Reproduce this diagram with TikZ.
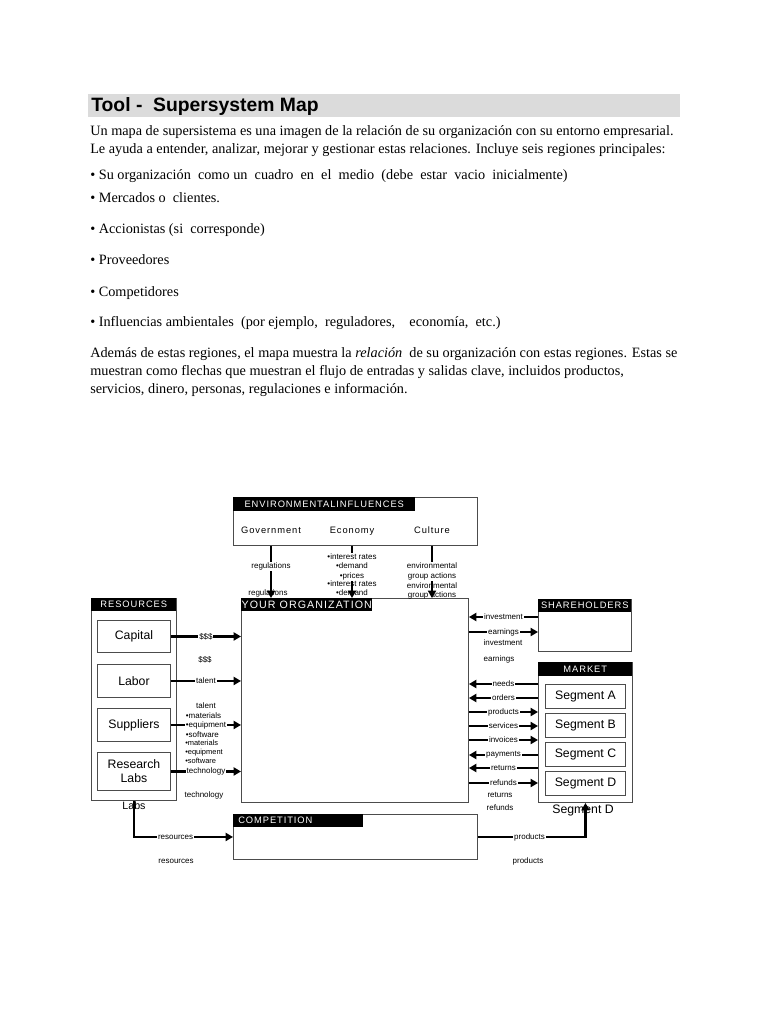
\documentclass[tikz,border=0pt]{standalone}
\usepackage{fontspec}
\setmainfont{Liberation Serif}
\setsansfont{Liberation Sans}
\newfontfamily\hdrfont[LetterSpace=10]{Liberation Sans}
\usetikzlibrary{arrows.meta}

\begin{document}
\begin{tikzpicture}[x=0.75pt, y=-0.75pt,
  txt/.style={anchor=base west, inner sep=0pt, font=\fontsize{10.7}{12}\selectfont},
  box/.style={draw=black!70, line width=0.7pt, inner sep=0pt, anchor=north west},
  hdr/.style={fill=black, text=white, inner sep=0pt, anchor=north west, font=\hdrfont\fontsize{7}{8}\selectfont},
  grp/.style={inner sep=0pt, anchor=base, font=\hdrfont\fontsize{7}{8}\selectfont},
  part/.style={box, align=center, font=\sffamily\fontsize{9.2}{10.5}\selectfont},
  lbl/.style={inner sep=0.6pt, align=center, font=\sffamily\fontsize{6}{7}\selectfont},
  onl/.style={lbl, fill=white},
  flow/.style={line width=2.2pt, -{Triangle[length=5.5pt,width=6pt]}}]

\useasboundingbox (0,0) rectangle (768,1024);
\fill[white] (0,0) rectangle (768,1024);

\fill[black!14] (88,94) rectangle (680,117);
\node[anchor=base west, inner sep=0pt, font=\sffamily\bfseries\fontsize{14.5}{16}\selectfont] (title) at (91,112) {Tool -\ \ Supersystem Map};

\node[txt] (l1) at (90,135) {Un mapa de supersistema es una imagen de la relación de su organización con su entorno empresarial.};
\node[txt] (l2) at (90,153) {Le ayuda a entender, analizar, mejorar y gestionar estas relaciones. Incluye seis regiones principales:};
\node[txt] (b1) at (90,179) {• Su organización\ \ como un\ \ cuadro\ \ en\ \ el\ \ medio\ \ (debe\ \ estar\ \ vacio\ \ inicialmente)};
\node[txt] (b2) at (90,202) {• Mercados o\ \ clientes.};
\node[txt] (b3) at (90,233) {• Accionistas (si\ \ corresponde)};
\node[txt] (b4) at (90,264) {• Proveedores};
\node[txt] (b5) at (90,296) {• Competidores};
\node[txt] (b6) at (90,326) {• Influencias ambientales\ \ (por ejemplo,\ \ reguladores,\ \ \ \ economía,\ \ etc.)};
\node[txt] (p1) at (90,357) {Además de estas regiones, el mapa muestra la \textit{relación}\ \ de su organización con estas regiones. Estas se};
\node[txt] (p2) at (90,375) {muestran como flechas que muestran el flujo de entradas y salidas clave, incluidos productos,};
\node[txt] (p3) at (90,393) {servicios, dinero, personas, regulaciones e información.};

\node[box, minimum width=183pt, minimum height=36pt] (env) at (233,497) {};
\node[hdr, minimum width=136.5pt, minimum height=10.5pt] (envh) at (233,497) {ENVIRONMENTALINFLUENCES};
\node[grp] (gov) at (271,533) {Government};
\node[grp] (eco) at (352,533) {Economy};
\node[grp] (cul) at (432,533) {Culture};

\node[box, minimum width=170.25pt, minimum height=153pt] (org) at (241,598) {};
\node[hdr, minimum width=98.25pt, minimum height=9.75pt, font=\hdrfont\fontsize{8}{9}\selectfont] (orgh) at (241,598) {YOUR ORGANIZATION};

\node[box, minimum width=63.75pt, minimum height=151.5pt] (res) at (91,598) {};
\node[hdr, minimum width=63.75pt, minimum height=9.75pt] (resh) at (91,598) {RESOURCES};
\node[part, minimum width=54.75pt, minimum height=24pt] (cap) at (97,620) {Capital};
\node[part, minimum width=54.75pt, minimum height=24.75pt] (lab) at (97,664) {Labor};
\node[part, minimum width=54.75pt, minimum height=24.75pt] (sup) at (97,708) {Suppliers};
\node[part, minimum width=54.75pt, minimum height=28.5pt] (rl) at (97,752) {Research\\Labs};

\node[box, minimum width=69.75pt, minimum height=39pt] (sh) at (538,599) {};
\node[hdr, minimum width=69.75pt, minimum height=9.75pt] (shh) at (538,599) {SHAREHOLDERS};

\node[box, minimum width=70.5pt, minimum height=105pt] (mkt) at (538,662) {};
\node[hdr, minimum width=70.5pt, minimum height=10.5pt] (mkth) at (538,662) {MARKET};
\node[part, minimum width=60pt, minimum height=18pt] (sega) at (545,684) {Segment A};
\node[part, minimum width=60pt, minimum height=18pt] (segb) at (545,713) {Segment B};
\node[part, minimum width=60pt, minimum height=18pt] (segc) at (545,742) {Segment C};
\node[part, minimum width=60pt, minimum height=18pt] (segd) at (545,771) {Segment D};

\node[box, minimum width=183pt, minimum height=33.75pt] (comp) at (233,814) {};
\node[hdr, minimum width=97.5pt, minimum height=9.75pt, text width=90pt, align=left] (comph) at (233,814) {COMPETITION};

\draw[flow] (gov |- env.south) -- node[onl, pos=0.4] {regulations} (gov |- org.north);
\draw[flow] (eco |- env.south) -- node[onl, pos=0.4] {•interest rates\\•demand\\•prices} (eco |- org.north);
\draw[flow] (cul |- env.south) -- node[onl, pos=0.49] {environmental\\group actions} (cul |- org.north);
\node[lbl] (gov2) at (268,593) {regulations};
\node[lbl] (eco2) at (352,588) {•interest rates\\•demand};
\node[lbl] (cul2) at (432,591) {environmental\\group actions};

\draw[flow] (cap.east) -- node[onl] {\$\$\$} (cap.east -| org.west);
\node[lbl] (cap2) at (205,660) {\$\$\$};
\draw[flow] (lab.east) -- node[onl] {talent} (lab.east -| org.west);
\node[lbl] (lab2) at (206,706) {talent};
\draw[flow] (sup.east) -- node[onl, align=left] {•materials\\•equipment\\•software} (sup.east -| org.west);
\node[lbl, align=left, font=\sffamily\fontsize{5.6}{6.6}\selectfont] (sup2) at (204,752) {•materials\\•equipment\\•software};
\draw[flow] (rl.east) -- node[onl] {technology} (rl.east -| org.west);
\node[lbl] (rl2) at (204,795) {technology};
\node[lbl, font=\sffamily\fontsize{8}{9}\selectfont] (rl3) at (134,806) {Labs};

\draw[flow] (sh.west |- 0,617) -- node[onl] {investment} (org.east |- 0,617);
\draw[flow] (org.east |- 0,632) -- node[onl] {earnings} (sh.west |- 0,632);
\node[lbl] (sh2) at (503,643) {investment};
\node[lbl] (sh3) at (499,659) {earnings};

\draw[flow] (mkt.west |- 0,684) -- node[onl] {needs} (org.east |- 0,684);
\draw[flow] (mkt.west |- 0,698) -- node[onl] {orders} (org.east |- 0,698);
\draw[flow] (org.east |- 0,712) -- node[onl] {products} (mkt.west |- 0,712);
\draw[flow] (org.east |- 0,726) -- node[onl] {services} (mkt.west |- 0,726);
\draw[flow] (org.east |- 0,740) -- node[onl] {invoices} (mkt.west |- 0,740);
\draw[flow] (mkt.west |- 0,755) -- node[onl] {payments} (org.east |- 0,755);
\draw[flow] (mkt.west |- 0,768) -- node[onl] {returns} (org.east |- 0,768);
\draw[flow] (org.east |- 0,783) -- node[onl] {refunds} (mkt.west |- 0,783);
\node[lbl] (mk2) at (500,795) {returns};
\node[lbl] (mk3) at (500,808) {refunds};
\node[font=\sffamily\fontsize{9.2}{10.5}\selectfont, inner sep=0pt] (segd2) at (583,810) {Segment D};

\draw[flow] (res.south) |- node[onl, pos=0.71] {resources} (comp.west);
\node[lbl] (res2) at (176,861) {resources};
\draw[flow] (comp.east) -| node[onl, pos=0.24] {products} (mkt.south);
\node[lbl] (comp2) at (528,861) {products};
\end{tikzpicture}
\end{document}
